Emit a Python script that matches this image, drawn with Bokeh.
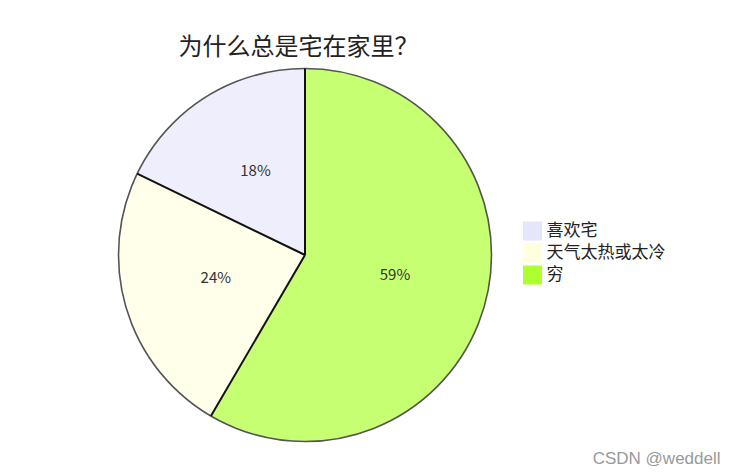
import numpy as np
from bokeh.plotting import figure
from bokeh.models import Range1d, ColumnDataSource
from bokeh.core.properties import value
from bokeh.embed import file_html
from bokeh.resources import INLINE

#data
labels = ["喜欢宅", "天气太热或太冷", "穷"]
shares = [18, 24, 59]
pie_colors = ["#E6E6FA", "#FFFFE0", "#ADFF2F"]
title_text = "为什么总是宅在家里？"
watermark = "CSDN @weddell"

FONT = "Noto Sans CJK SC"
W, H = 721, 468

#figure in pixel units, y up
p = figure(width=W, height=H, x_range=Range1d(0, W), y_range=Range1d(0, H),
           x_axis_type=None, y_axis_type=None, output_backend="svg",
           toolbar_location=None, min_border=0)
p.grid.visible = False
p.outline_line_color = None

#pie geometry
cx, cy, r = 304.5, 213.5, 186.5
total = sum(shares)
frac = np.array(shares) / total
ends = np.pi / 2 + 2 * np.pi * np.cumsum(frac)
starts = ends - 2 * np.pi * frac
mids = (starts + ends) / 2

src = ColumnDataSource(dict(
    start=starts, end=ends, color=pie_colors,
    lx=cx + 0.5 * r * np.cos(mids), ly=cy + 0.5 * r * np.sin(mids) + 6,
    pct=[f"{s}%" for s in shares],
    x1=cx + r * np.cos(starts), y1=cy + r * np.sin(starts),
))

p.wedge(x=cx, y=cy, radius=r, start_angle="start", end_angle="end",
        fill_color="color", fill_alpha=0.68, line_color=None, source=src)
#outer border
p.arc(x=cx, y=cy, radius=r, start_angle=0, end_angle=2 * np.pi,
      line_color="#555555", line_width=1.6)
#slice borders
p.segment(x0=cx, y0=cy, x1="x1", y1="y1", line_color="#111111",
          line_width=2, source=src)
#percent labels
p.text(x="lx", y="ly", text="pct", source=src, text_align="center",
       text_baseline="middle", text_font=value(FONT),
       text_font_size="15px", text_color="#333333")

#title
p.text(x=[298], y=[424], text=[title_text], text_align="center",
       text_baseline="middle", text_font=value(FONT),
       text_font_size="24px", text_color="#222222")

#legend
leg_y = [237.5 - 22 * i for i in range(len(labels))]
p.rect(x=[532] * len(labels), y=leg_y, width=19, height=19,
       fill_color=pie_colors, line_color=None)
p.text(x=[546] * len(labels), y=[v + 3 for v in leg_y], text=labels,
       text_align="left", text_baseline="middle", text_font=value(FONT),
       text_font_size="17px", text_color="#222222")

#watermark
p.text(x=[720], y=[10], text=[watermark], text_align="right",
       text_baseline="middle", text_font=value("Liberation Sans"),
       text_font_size="17px", text_color="#999999")

open("out.html", "w").write(file_html(p, INLINE))
